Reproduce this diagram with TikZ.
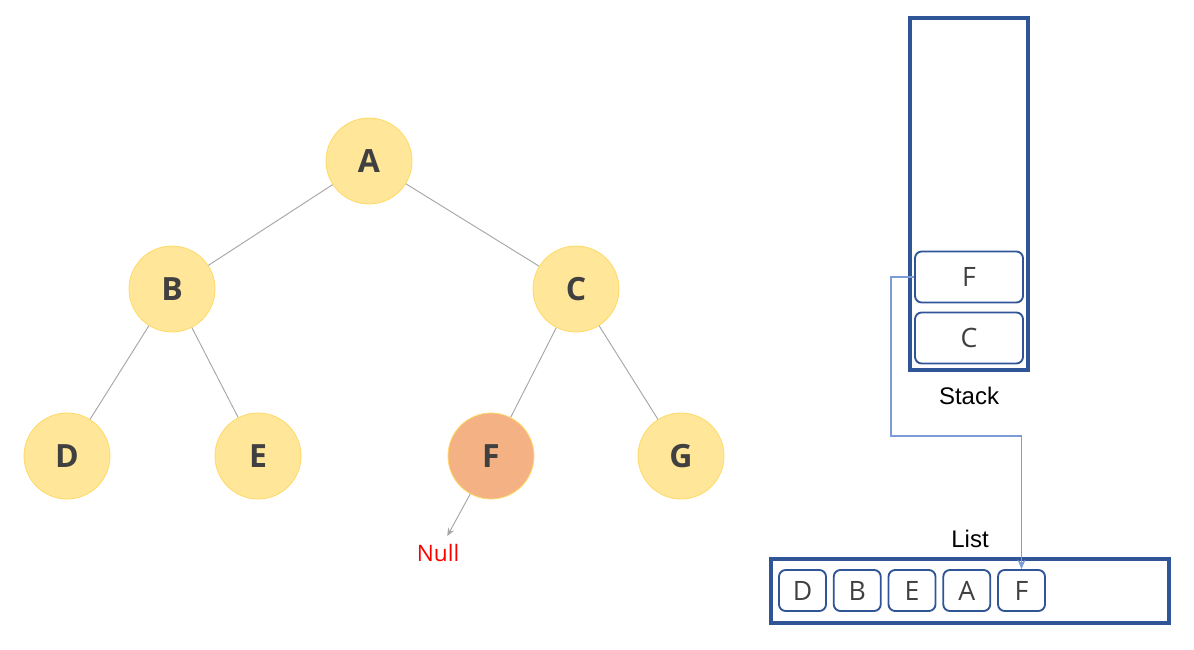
\documentclass[tikz,border=0pt]{standalone}
\usepackage{fontspec}
\usepackage{tikz}
\usetikzlibrary{positioning, arrows.meta}
\newfontfamily\uifont{Open Sans}
\newfontfamily\labfont{Liberation Sans}
\definecolor{nodefill}{HTML}{FFE699}
\definecolor{nodeline}{HTML}{FFD966}
\definecolor{hotfill}{HTML}{F4B183}
\definecolor{boxblue}{HTML}{2F5597}
\definecolor{linkblue}{HTML}{7C9CD8}
\definecolor{txtgray}{HTML}{404040}

\begin{document}
\begin{tikzpicture}[x=0.75pt, y=-0.75pt,
    treenode/.style={circle, draw=nodeline, fill=nodefill, line width=0.6pt,
      minimum size=64.5pt, inner sep=0pt, text=txtgray,
      font=\uifont\bfseries\fontsize{24}{24}\selectfont},
    cell/.style={draw=boxblue, rounded corners=5pt, line width=1.4pt, inner sep=0pt,
      text=txtgray, font=\uifont\fontsize{20}{20}\selectfont},
    frame/.style={draw=boxblue, line width=2.6pt, inner sep=0pt},
    edge/.style={draw=black!35, line width=0.7pt}]
    \useasboundingbox (0,0) rectangle (1194,649);
    % tree
    \node[treenode] (A) at (369,161) {A};
    \node[treenode] (B) at (172,289) {B};
    \node[treenode] (C) at (576,289) {C};
    \node[treenode] (D) at (67,456) {D};
    \node[treenode] (E) at (258,456) {E};
    \node[treenode, fill=hotfill] (F) at (491,456) {F};
    \node[treenode] (G) at (681,456) {G};
    \node[text=red, font=\uifont\fontsize{17}{17}\selectfont] (null) at (438,553) {Null};
    \path[edge]
      (A) -- (B)  (A) -- (C)
      (B) -- (D)  (B) -- (E)
      (C) -- (F)  (C) -- (G);
    \draw[edge, -{Stealth[length=6pt, width=5pt]}, shorten >=3pt] (F) -- (null);
    % stack
    \node[frame, minimum width=88.5pt, minimum height=264pt] (stack) at (969,194) {};
    \node[cell, minimum width=81pt, minimum height=38.25pt] (sF) at (969,277) {F};
    \node[cell, minimum width=81pt, minimum height=38.25pt] (sC) at (969,338) {C};
    \node[font=\labfont\fontsize{18}{18}\selectfont, below=8pt of stack] (stacklab) {Stack};
    % list
    \node[frame, minimum width=298.5pt, minimum height=48pt] (list) at (970,591) {};
    \node[font=\labfont\fontsize{18}{18}\selectfont, above=3.5pt of list] (listlab) {List};
    \foreach \name [count=\i from 0] in {D,B,E,A,F}
      \node[cell, minimum width=35.25pt, minimum height=30.75pt] (l\name) at (802.5+54.75*\i,590.5) {\name};
    % link
    \coordinate (bend) at (891,436);
    \draw[linkblue, line width=0.8pt, -{Stealth[length=7pt, width=6pt]}]
      (sF.west) -| (bend) -| (lF.north);
\end{tikzpicture}
\end{document}
